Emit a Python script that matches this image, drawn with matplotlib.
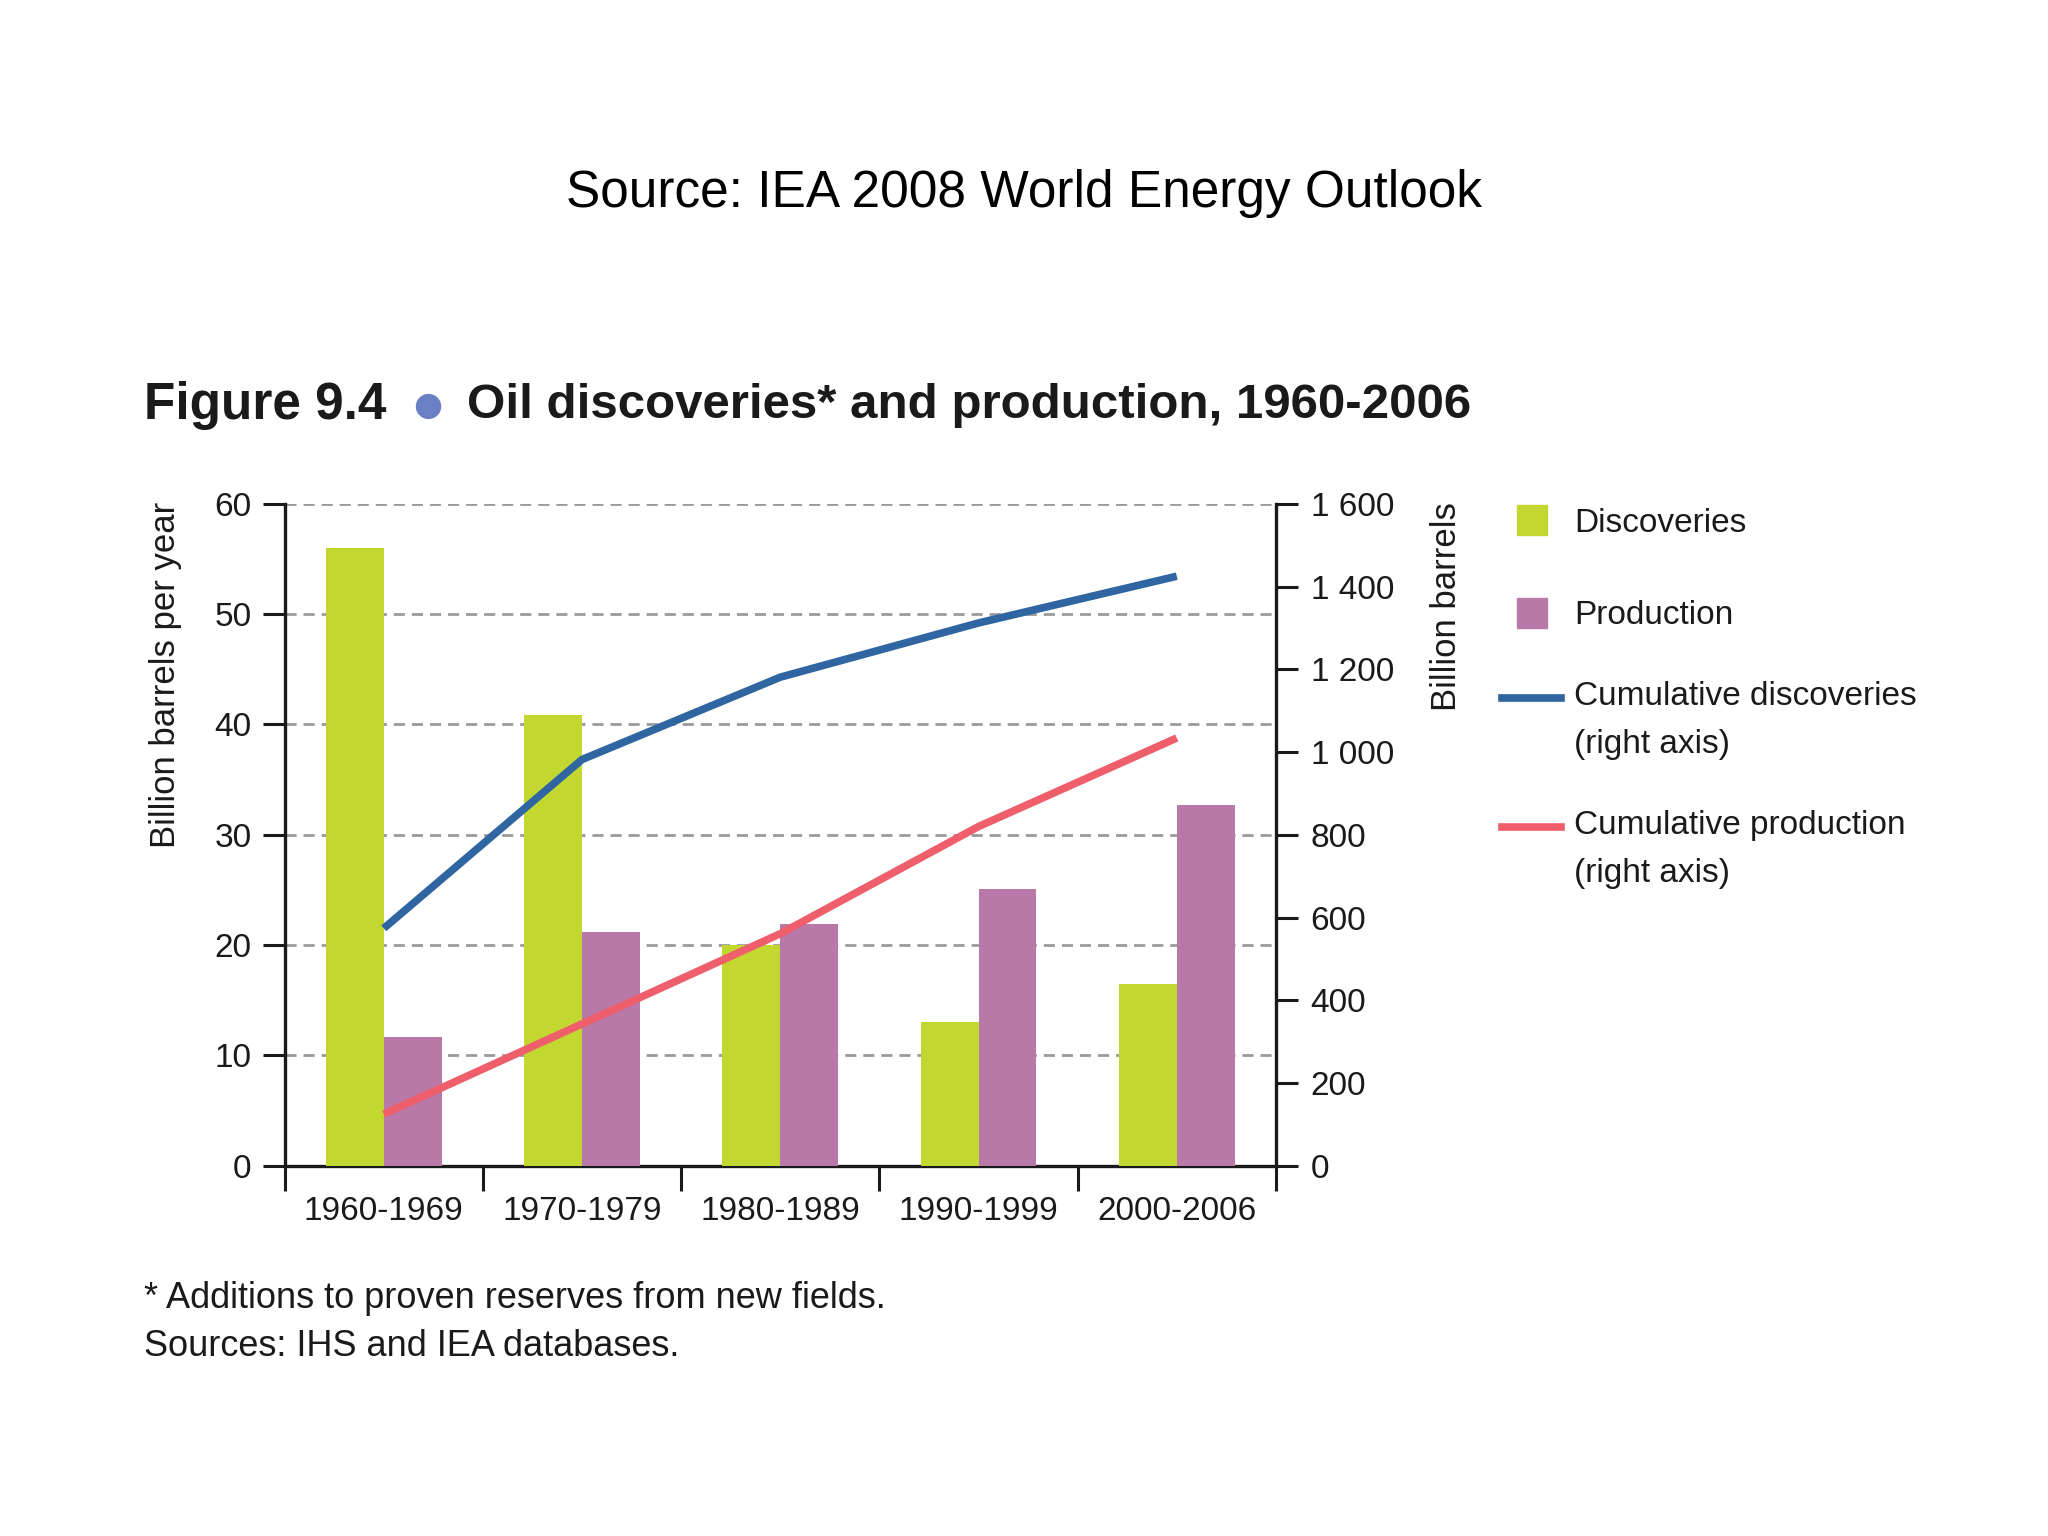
import matplotlib
matplotlib.use("Agg")
import matplotlib.pyplot as plt
from matplotlib.lines import Line2D
from matplotlib.legend_handler import HandlerLine2D

FAM = ['Liberation Sans', 'DejaVu Sans']

categories = ["1960-1969", "1970-1979", "1980-1989", "1990-1999", "2000-2006"]
discoveries = [56.0, 40.9, 20.0, 13.0, 16.5]
production = [11.7, 21.2, 21.9, 25.1, 32.7]
cum_discoveries = [574, 982, 1181, 1312, 1425]
cum_production = [125, 343, 561, 820, 1034]
left_ticks = [0, 10, 20, 30, 40, 50, 60]
right_ticks = [0, 200, 400, 600, 800, 1000, 1200, 1400, 1600]
right_labels = ["0", "200", "400", "600", "800", "1 000", "1 200", "1 400", "1 600"]

GREEN = "#C3D731"
PURPLE = "#B878A8"
BLUE = "#2F65A1"
RED = "#EF5E6B"
TXT = "#1a1a1a"


class RaisedLine(HandlerLine2D):
    """Legend line handle aligned with the first line of a two-line label."""
    def __init__(self, dy, **kw):
        super().__init__(**kw)
        self._dy = dy

    def create_artists(self, legend, orig_handle, xdescent, ydescent, width, height,
                       fontsize, trans):
        arts = super().create_artists(legend, orig_handle, xdescent, ydescent, width,
                                      height, fontsize, trans)
        for a in arts:
            if isinstance(a, Line2D):
                a.set_ydata([v + self._dy for v in a.get_ydata()])
        return arts


plt.rcParams['font.family'] = FAM
fig = plt.figure(figsize=(20.48, 15.36), dpi=100)
ax = fig.add_axes([0.139, 0.241, 0.484, 0.431])

x = list(range(len(categories)))
bw = 0.292
ax.bar([i - 0.146 for i in x], discoveries, width=bw, color=GREEN, zorder=3)
ax.bar([i + 0.146 for i in x], production, width=bw, color=PURPLE, zorder=3)
ax.set_ylim(0, 60)
ax.set_xlim(-0.5, 4.5)
ax.set_yticks(left_ticks)
ax.set_yticklabels([str(t) for t in left_ticks])
ax.grid(axis='y', color='#9a9a9a', linestyle=(0, (4, 2.5)), linewidth=2.0, zorder=0)
ax.set_xticks([i - 0.5 for i in range(len(categories) + 1)])
ax.set_xticklabels([])
ax.set_xticks(x, minor=True)
ax.set_xticklabels(categories, minor=True)
ax.tick_params(axis='x', which='major', length=18, width=2.2, direction='out', color=TXT)
ax.tick_params(axis='x', which='minor', length=0, pad=22, labelsize=24, labelcolor=TXT)
ax.tick_params(axis='y', length=16, width=2.2, pad=8, labelsize=24, labelcolor=TXT, color=TXT)
for s in ['top', 'right']:
    ax.spines[s].set_visible(False)
for s in ['left', 'bottom']:
    ax.spines[s].set_linewidth(2.4)
    ax.spines[s].set_color(TXT)

ax2 = ax.twinx()
ax2.plot(x, cum_discoveries, color=BLUE, lw=5.5, solid_capstyle='butt', zorder=5)
ax2.plot(x, cum_production, color=RED, lw=5.5, solid_capstyle='butt', zorder=5)
ax2.set_ylim(0, 1600)
ax2.set_yticks(right_ticks)
ax2.set_yticklabels(right_labels)
ax2.tick_params(axis='y', length=16, width=2.2, pad=9, labelsize=24, labelcolor=TXT, color=TXT)
for s in ['top', 'left', 'bottom']:
    ax2.spines[s].set_visible(False)
ax2.spines['right'].set_linewidth(2.4)
ax2.spines['right'].set_color(TXT)

# axis labels
fig.text(165 / 2048, 1 - 502 / 1536, "Billion barrels per year", rotation=90,
         ha='center', va='top', fontsize=25, color=TXT)
fig.text(1446 / 2048, 1 - 502 / 1536, "Billion barrels", rotation=90,
         ha='center', va='top', fontsize=25, color=TXT)

# legends (two blocks to mimic the original spacing)
sq1 = Line2D([], [], marker='s', linestyle='none', markersize=21.6, color=GREEN)
sq2 = Line2D([], [], marker='s', linestyle='none', markersize=21.6, color=PURPLE)
ln1 = Line2D([], [], color=BLUE, lw=5.5)
ln2 = Line2D([], [], color=RED, lw=5.5)
common = dict(frameon=False, fontsize=24, handlelength=1.77, handletextpad=0.4,
              borderpad=0, borderaxespad=0, loc='center left')
leg1 = fig.legend([sq1, sq2], ["Discoveries", "Production"],
                  bbox_to_anchor=(1502 / 2048, 1 - 569.5 / 1536), labelspacing=1.85, **common)
leg2 = fig.legend([ln1, ln2], ["Cumulative discoveries\n(right axis)",
                               "Cumulative production\n(right axis)"],
                  bbox_to_anchor=(1502 / 2048, 1 - 785 / 1536), labelspacing=1.5,
                  handler_map={Line2D: RaisedLine(16.5)}, **common)
for lg in (leg1, leg2):
    for t in lg.get_texts():
        t.set_color(TXT)
for t in leg2.get_texts():
    t.set_linespacing(1.7)

# titles
fig.text(0.5, 1 - 193 / 1536, "Source: IEA 2008 World Energy Outlook", ha='center', va='center',
         fontsize=37, family=['Liberation Sans', 'DejaVu Sans'], color='black')
ty = 1 - 405 / 1536
t1 = fig.text(144 / 2048, ty, "Figure 9.4", ha='left', va='center',
              fontsize=37, fontweight='bold', color=TXT)
fig.canvas.draw()
bb = t1.get_window_extent()
t2 = fig.text(bb.x1 / fig.bbox.width + 0.013, ty, "●", ha='left', va='center', fontsize=24,
              color='#6A7FC6', family=['DejaVu Sans'])
fig.canvas.draw()
bb2 = t2.get_window_extent()
fig.text(bb2.x1 / fig.bbox.width + 0.012, ty,
         "Oil discoveries* and production, 1960-2006", ha='left', va='center',
         fontsize=35.5, fontweight='bold', color=TXT)

# footnotes
fig.text(144 / 2048, 1 - 1298 / 1536, "* Additions to proven reserves from new fields.",
         ha='left', va='center', fontsize=26, color=TXT)
fig.text(144 / 2048, 1 - 1347 / 1536, "Sources: IHS and IEA databases.",
         ha='left', va='center', fontsize=26, color=TXT)

fig.savefig("out.png", dpi=100)
